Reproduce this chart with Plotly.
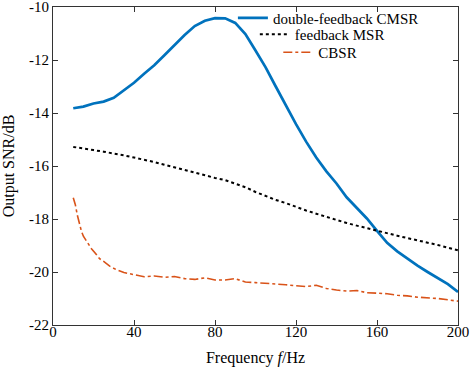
import plotly.graph_objects as go

freq_cmsr = [10, 15, 20, 25, 30, 35, 40, 45, 50, 55, 60, 65, 70, 75, 80, 85, 90, 95, 100,
             105, 110, 115, 120, 125, 130, 135, 140, 145, 150, 155, 160, 165, 170, 175,
             180, 185, 190, 195, 200]
snr_cmsr = [-13.82, -13.76, -13.64, -13.57, -13.43, -13.15, -12.86, -12.52, -12.2, -11.82,
            -11.42, -11.06, -10.72, -10.52, -10.42, -10.43, -10.6, -11.02, -11.64,
            -12.28, -13.0, -13.74, -14.42, -15.08, -15.68, -16.2, -16.66, -17.18, -17.56,
            -17.98, -18.45, -18.9, -19.22, -19.5, -19.76, -20.0, -20.22, -20.46, -20.75]

freq_msr = [10, 15, 20, 25, 30, 35, 40, 45, 50, 55, 60, 65, 70, 75, 80, 85, 90, 95, 100,
            105, 110, 115, 120, 125, 130, 135, 140, 145, 150, 155, 160, 165, 170, 175,
            180, 185, 190, 195, 200]
snr_msr = [-15.28, -15.33, -15.4, -15.46, -15.52, -15.6, -15.68, -15.76, -15.85, -15.95,
           -16.05, -16.15, -16.27, -16.36, -16.45, -16.53, -16.66, -16.8, -16.98, -17.13,
           -17.28, -17.4, -17.55, -17.68, -17.8, -17.92, -18.04, -18.15, -18.25, -18.35,
           -18.45, -18.55, -18.63, -18.72, -18.8, -18.9, -18.98, -19.08, -19.18]

freq_cbsr = [10, 11, 12, 13, 14, 15, 17, 19, 21, 23, 25, 28, 31, 35, 40, 45, 50, 55, 60,
             65, 70, 75, 80, 85, 90, 95, 100, 105, 110, 115, 120, 125, 130, 135, 140, 145,
             150, 155, 160, 165, 170, 175, 180, 185, 190, 195, 200]
snr_cbsr = [-17.2, -17.45, -17.85, -18.2, -18.45, -18.65, -18.9, -19.12, -19.3, -19.5,
            -19.6, -19.78, -19.9, -20.02, -20.1, -20.18, -20.15, -20.2, -20.17, -20.25,
            -20.28, -20.22, -20.3, -20.3, -20.25, -20.38, -20.4, -20.42, -20.45, -20.48,
            -20.52, -20.55, -20.5, -20.62, -20.68, -20.72, -20.7, -20.78, -20.8, -20.82,
            -20.88, -20.9, -20.95, -20.97, -21.0, -21.05, -21.1]

x_ticks = [0, 40, 80, 120, 160, 200]
y_ticks = [-22, -20, -18, -16, -14, -12, -10]
y_ticktext = ["-22", "-20", "-18", "-16", "-14", "-12", "-10"]

FONT = "Liberation Serif, Times New Roman, serif"

fig = go.Figure()
fig.add_trace(go.Scatter(x=freq_cmsr, y=snr_cmsr, mode="lines", name="double-feedback CMSR",
                         line=dict(color="#0072BD", width=2.7), legend="legend"))
fig.add_trace(go.Scatter(x=freq_msr, y=snr_msr, mode="lines", name="feedback MSR",
                         line=dict(color="black", width=2, dash="dot"), legend="legend2"))
fig.add_trace(go.Scatter(x=freq_cbsr, y=snr_cbsr, mode="lines", name="CBSR",
                         line=dict(color="#D95319", width=1.6, dash="dashdot"), legend="legend3"))

leg_common = dict(bgcolor="rgba(0,0,0,0)", borderwidth=0, xanchor="center", yanchor="top",
                  font=dict(family=FONT, size=15, color="black"), itemwidth=30)

axis_common = dict(showline=True, linecolor="#333", linewidth=1, mirror="ticks",
                   ticks="inside", ticklen=5, tickcolor="#333", showgrid=False, zeroline=False,
                   automargin=False, ticklabeloverflow="allow",
                   tickfont=dict(family=FONT, size=15, color="black"))

fig.update_layout(
    width=474, height=368,
    margin=dict(l=53, r=16, t=7, b=43, autoexpand=False),
    paper_bgcolor="white", plot_bgcolor="white",
    font=dict(family=FONT, size=15, color="black"),
    showlegend=True,
    legend=dict(x=0.68, y=1.0167, **leg_common),
    legend2=dict(x=0.665, y=0.9654, **leg_common),
    legend3=dict(x=0.66, y=0.9088, **leg_common),
    xaxis=dict(range=[0, 200], tickvals=x_ticks, ticklabelstandoff=-7,
               title=dict(text="Frequency <i>f</i>/Hz", font=dict(family=FONT, size=16), standoff=12),
               **axis_common),
    yaxis=dict(range=[-22, -10], tickvals=y_ticks, ticktext=y_ticktext,
               title=dict(text="Output SNR/dB", font=dict(family=FONT, size=16), standoff=11),
               **axis_common),
)

fig.write_html("out.html", config={"displayModeBar": False},
               post_script="document.body.style.margin='0';")
